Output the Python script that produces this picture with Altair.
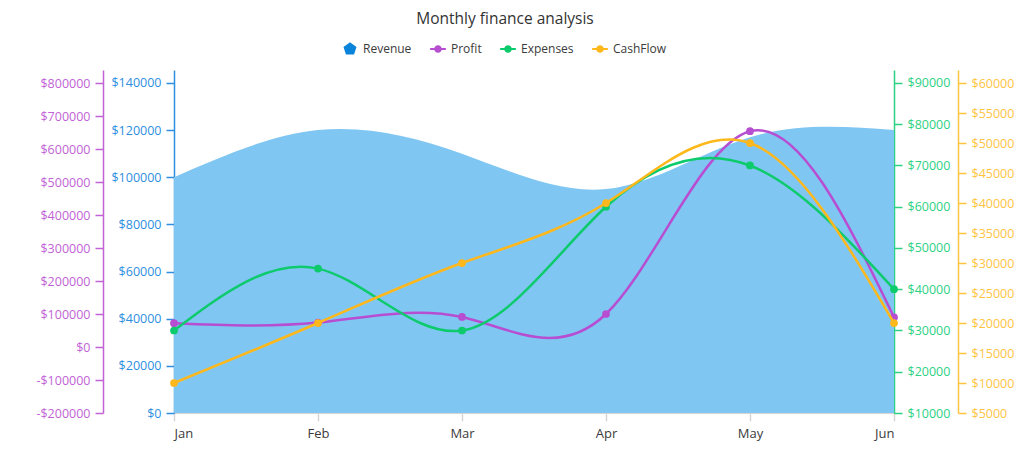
import altair as alt
import pandas as pd

months = ["Jan", "Feb", "Mar", "Apr", "May", "Jun"]
revenue = [100000, 120000, 110000, 95000, 117000, 120000]
profit = [72000, 74000, 91000, 100000, 654000, 90000]
expenses = [30000, 45000, 30000, 60000, 70000, 40000]
cashflow = [10000, 20000, 30000, 40000, 50000, 20000]

series = ["Revenue", "Profit", "Expenses", "CashFlow"]

revenue_ticks = [0, 20000, 40000, 60000, 80000, 100000, 120000, 140000]
profit_ticks = [-200000, -100000, 0, 100000, 200000, 300000, 400000,
                500000, 600000, 700000, 800000]
expenses_ticks = [10000, 20000, 30000, 40000, 50000, 60000, 70000, 80000, 90000]
cashflow_ticks = [5000, 10000, 15000, 20000, 25000, 30000, 35000, 40000,
                  45000, 50000, 55000, 60000]

FONT = "Open Sans"
BLUE, BLUE_AXIS, AREA = "#0A84DA", "#2E8FE0", "#80C6F2"
PURPLE, PURPLE_AXIS = "#B74ED2", "#C163D6"
GREEN, GREEN_AXIS = "#0DCB6C", "#2DD184"
ORANGE, ORANGE_AXIS = "#FFB81C", "#FFC43F"

PENTAGON = "M0,-1L0.951,-0.309L0.588,0.809L-0.588,0.809L-0.951,-0.309Z"
LINE_DOT = ("M-1.15,-0.14H1.15V0.14H-1.15Z"
            "M0.55,0A0.55,0.55 0 1 1 -0.55,0A0.55,0.55 0 1 1 0.55,0Z")

df = pd.DataFrame({
    "month": months,
    "Revenue": revenue,
    "Profit": profit,
    "Expenses": expenses,
    "CashFlow": cashflow,
})
legend_df = pd.DataFrame({"series": series, "month": months[0], "v": 0})

x = alt.X(
    "month:N",
    sort=months,
    scale=alt.Scale(type="point", padding=0),
    axis=alt.Axis(
        title=None, labelAngle=0, labelFlush=True, labelFlushOffset=0,
        domainColor="#d6d6d6", tickColor="#d6d6d6", tickSize=8, tickWidth=1.5,
        labelColor="#3b3b3b", labelFontSize=13, labelPadding=6, grid=False,
    ),
)

label_expr = "datum.value < 0 ? '-$' + abs(datum.value) : '$' + datum.value"


def y_axis(color, ticks, orient, offset):
    return alt.Axis(
        title=None, orient=orient, offset=offset, values=ticks, grid=False,
        domainColor=color, tickColor=color, labelColor=color,
        domainWidth=1.5, tickWidth=1.5, tickSize=8, labelPadding=5,
        labelFontSize=12.5, labelExpr=label_expr,
    )


def y_enc(field, domain, axis):
    return alt.Y(f"{field}:Q", scale=alt.Scale(domain=domain, nice=False, zero=False), axis=axis)


base = alt.Chart(df)

rev_area = base.mark_area(interpolate="natural", color=AREA, opacity=1).encode(
    x=x,
    y=y_enc("Revenue", [0, 145500], y_axis(BLUE_AXIS, revenue_ticks, "left", 0)),
)


def line_series(field, color, axis_color, ticks, domain, orient, offset):
    y = y_enc(field, domain, y_axis(axis_color, ticks, orient, offset))
    line = base.mark_line(interpolate="natural", color=color, strokeWidth=2.5).encode(x=x, y=y)
    dots = base.mark_circle(color=color, size=60, opacity=1).encode(x=x, y=y)
    return alt.layer(line, dots)


profit_layer = line_series("Profit", PURPLE, PURPLE_AXIS, profit_ticks,
                           [-200000, 839400], "left", 71)
expenses_layer = line_series("Expenses", GREEN, GREEN_AXIS, expenses_ticks,
                             [10000, 93150], "right", 0)
cashflow_layer = line_series("CashFlow", ORANGE, ORANGE_AXIS, cashflow_ticks,
                             [5000, 62170], "right", 64)

legend = alt.Legend(
    title=None, orient="none", legendX=169, legendY=-28, direction="horizontal",
    symbolSize=187, symbolOpacity=1, symbolStrokeWidth=0, labelFontSize=12,
    labelColor="#3b3b3b", columnPadding=18, padding=0, labelOffset=6,
)
legend_layer = alt.Chart(legend_df).mark_point(filled=True, opacity=0).encode(
    x=alt.X("month:N", sort=months),
    y=alt.Y("v:Q", axis=None),
    color=alt.Color("series:N", scale=alt.Scale(domain=series, range=[BLUE, PURPLE, GREEN, ORANGE]), legend=legend),
    shape=alt.Shape("series:N", scale=alt.Scale(domain=series, range=[PENTAGON, LINE_DOT, LINE_DOT, LINE_DOT]), legend=legend),
)

chart = (
    alt.layer(rev_area, profit_layer, expenses_layer, cashflow_layer, legend_layer)
    .resolve_scale(y="independent")
    .properties(
        width=720,
        height=343,
        autosize=alt.AutoSizeParams(type="none"),
        padding={"left": 166, "top": 62, "right": 122, "bottom": 30},
        title=alt.Title("Monthly finance analysis", fontSize=15.5, fontWeight="normal",
                        color="#333333", anchor="middle", offset=15, dx=-29),
    )
    .configure(font=FONT)
    .configure_view(stroke=None)
)

chart.save("out.html", embed_options={"renderer": "svg", "actions": False})
